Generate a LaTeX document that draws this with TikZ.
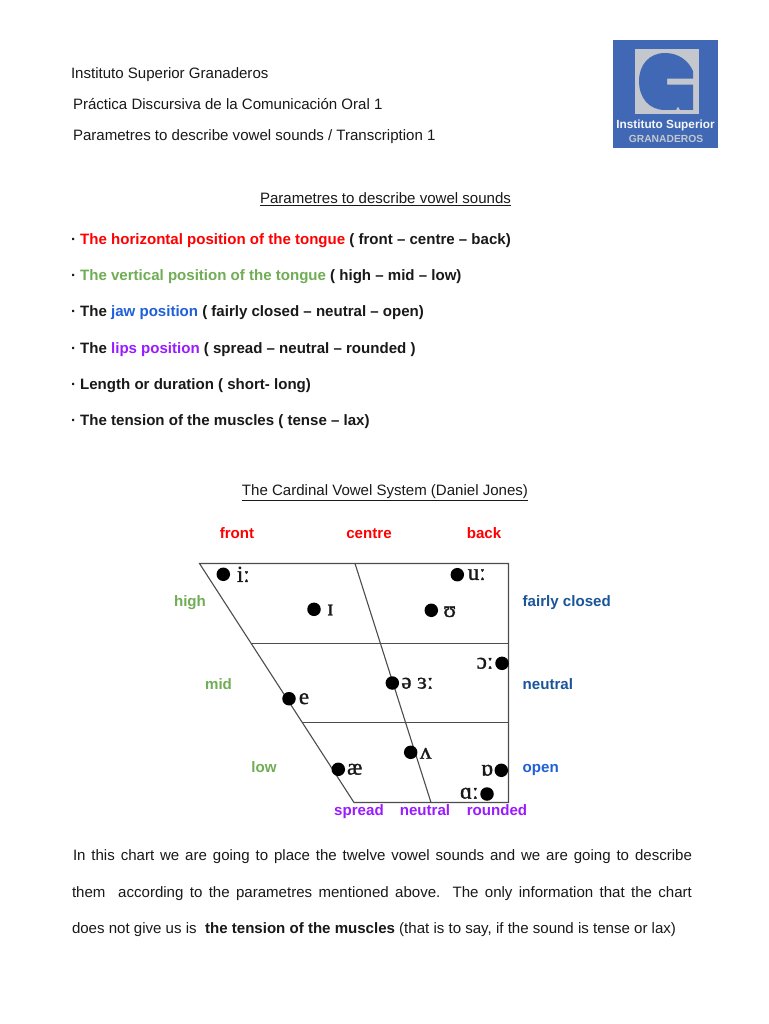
\documentclass[tikz,border=0pt]{standalone}
\usepackage{fontspec}
\setmainfont{Liberation Sans}
\newfontfamily\ipafont[FakeBold=1.2]{Liberation Serif}
\definecolor{cred}{HTML}{FF0000}
\definecolor{cgreen}{HTML}{70AD55}
\definecolor{cblue}{HTML}{1F5FD8}
\definecolor{cdblue}{HTML}{1A5499}
\definecolor{cpurple}{HTML}{9A1BFF}
\definecolor{logoblue}{HTML}{4068B4}
\definecolor{logogray}{HTML}{C4C8CE}
\tikzset{
  x=1pt,y=-1pt,
  txt/.style={anchor=base west,inner sep=0pt,outer sep=0pt,font=\fontsize{15.05}{17}\selectfont,text=black!90},
  btxt/.style={txt,font=\fontsize{15.05}{17}\selectfont\bfseries},
  ctr/.style={txt,anchor=base},
  lab/.style={anchor=base,inner sep=0pt,font=\fontsize{15.1}{17}\selectfont\bfseries},
  chartline/.style={draw=black!70,line width=1.1pt},
  dot/.style={circle,fill=black,inner sep=0pt,minimum size=13.5pt},
  ipa/.style={inner sep=0pt,font=\fontsize{23}{24}\selectfont\ipafont,text=black!90},
}
\begin{document}
\begin{tikzpicture}
\useasboundingbox[fill=white] (0,0) rectangle (768,1024);
% logo
\fill[logoblue] (613.3,40) rectangle (718,148.5);
\fill[logogray] (635,49.5) rectangle (698.5,114);
\fill[logoblue] (693,78.7) -- (693,71) .. controls (688,60) and (678,53) .. (665,53) .. controls (649,53) and (639,65) .. (639,81) .. controls (639,98) and (649,110) .. (665,110) -- (676,110) -- (678,106.5) -- (680,110) -- (693,110) -- (693,84.7) -- (667,84.7) -- (667,78.7) -- cycle;
\node[anchor=base,inner sep=0pt,text=white!95!logoblue,font=\fontsize{11.8}{12}\bfseries\selectfont] (logoa) at (665.5,129) {Instituto Superior};
\node[anchor=base,inner sep=0pt,text=logogray,font=\fontsize{10.3}{11}\bfseries\selectfont] (logob) at (666,143) {GRANADEROS};
% header
\node[txt] (h1) at (71,79) {Instituto Superior Granaderos};
\node[txt] (h2) at (73,110) {Práctica Discursiva de la Comunicación Oral 1};
\node[txt] (h3) at (73,141) {Parametres to describe vowel sounds / Transcription 1};
\node[ctr] (t1) at (385.5,203.5) {\underline{Parametres to describe vowel sounds}};
% bullets
\node[btxt] (b1) at (71,244) {· \textcolor{cred}{The horizontal position of the tongue} ( front – centre – back)};
\node[btxt] (b2) at (71,280.5) {· \textcolor{cgreen}{The vertical position of the tongue} ( high – mid – low)};
\node[btxt] (b3) at (71,316.5) {· The \textcolor{cblue}{jaw position} ( fairly closed – neutral – open)};
\node[btxt] (b4) at (71,353) {· The \textcolor{cpurple}{lips position} ( spread – neutral – rounded )};
\node[btxt] (b5) at (71,389) {· Length or duration ( short- long)};
\node[btxt] (b6) at (71,425.5) {· The tension of the muscles ( tense – lax)};
\node[ctr] (t2) at (385,495.5) {\underline{The Cardinal Vowel System (Daniel Jones)}};
% chart labels
\node[lab,text=cred] (front) at (237,538) {front};
\node[lab,text=cred] (centre) at (369,538) {centre};
\node[lab,text=cred] (back) at (484,538) {back};
\node[lab,text=cgreen] (high) at (190,606) {high};
\node[lab,text=cgreen] (mid) at (218.5,689.5) {mid};
\node[lab,text=cgreen] (low) at (264,772) {low};
\node[lab,text=cdblue,anchor=base west] (fc) at (522.5,606) {fairly closed};
\node[lab,text=cdblue,anchor=base west] (neu) at (522.5,689.5) {neutral};
\node[lab,text=cblue,anchor=base west] (open) at (522.5,772.5) {open};
\node[lab,text=cpurple] (spread) at (359,815) {spread};
\node[lab,text=cpurple] (neutr) at (425,815) {neutral};
\node[lab,text=cpurple] (rounded) at (497,815) {rounded};
% chart frame
\coordinate (tl) at (199.5,563.5);
\coordinate (tr) at (508.5,563.5);
\coordinate (br) at (508.5,802.5);
\coordinate (bl) at (354,802.5);
\coordinate (ct) at (355,563.5);
\coordinate (cb) at (431,802.5);
\coordinate (m1l) at (252.3,643.3);
\coordinate (m1r) at (508.5,643.3);
\coordinate (m2l) at (303.3,722.7);
\coordinate (m2r) at (508.5,722.7);
\draw[chartline] (tl) -- (tr) -- (br) -- (bl) -- cycle;
\draw[chartline] (ct) -- (cb);
\draw[chartline] (m1l) -- (m1r);
\draw[chartline] (m2l) -- (m2r);
% vowels
\node[dot] (d1) at (223.3,574.3) {}; \node[ipa] (v1) at (243.3,574.3) {iː};
\node[dot] (d2) at (314,609.3) {}; \node[ipa] (v2) at (330.3,610) {ɪ};
\node[dot] (d3) at (457.3,574.7) {}; \node[ipa] (v3) at (476.7,574.7) {uː};
\node[dot] (d4) at (431.3,610.3) {}; \node[ipa] (v4) at (449.7,611.7) {ʊ};
\node[dot] (d5) at (502,663.3) {}; \node[ipa] (v5) at (485,663.3) {ɔː};
\node[dot] (d6) at (392.3,683) {}; \node[ipa] (v6) at (417.3,683.3) {ə ɜː};
\node[dot] (d7) at (289,698.7) {}; \node[ipa] (v7) at (304,698.7) {e};
\node[dot] (d8) at (410.7,752.3) {}; \node[ipa] (v8) at (425.7,753.3) {ʌ};
\node[dot] (d9) at (338.3,769.3) {}; \node[ipa] (v9) at (354.7,769.3) {æ};
\node[dot] (d10) at (501.3,770.3) {}; \node[ipa] (v10) at (487,770.3) {ɒ};
\node[dot] (d11) at (487,794) {}; \node[ipa] (v11) at (469.3,793.3) {ɑː};
% paragraph
\node[txt] (p1) at (73,860.5) {\makebox[619pt][s]{In this chart we are going to place the twelve vowel sounds and we are going to describe}};
\node[txt] (p2) at (72,897) {\makebox[620pt][s]{them\ \ according to the parametres mentioned above. The only information that the chart}};
\node[txt] (p3) at (72,933.5) {\makebox[604pt][s]{does not give us is\ \ \textbf{the tension of the muscles} (that is to say, if the sound is tense or lax)}};
\end{tikzpicture}
\end{document}
